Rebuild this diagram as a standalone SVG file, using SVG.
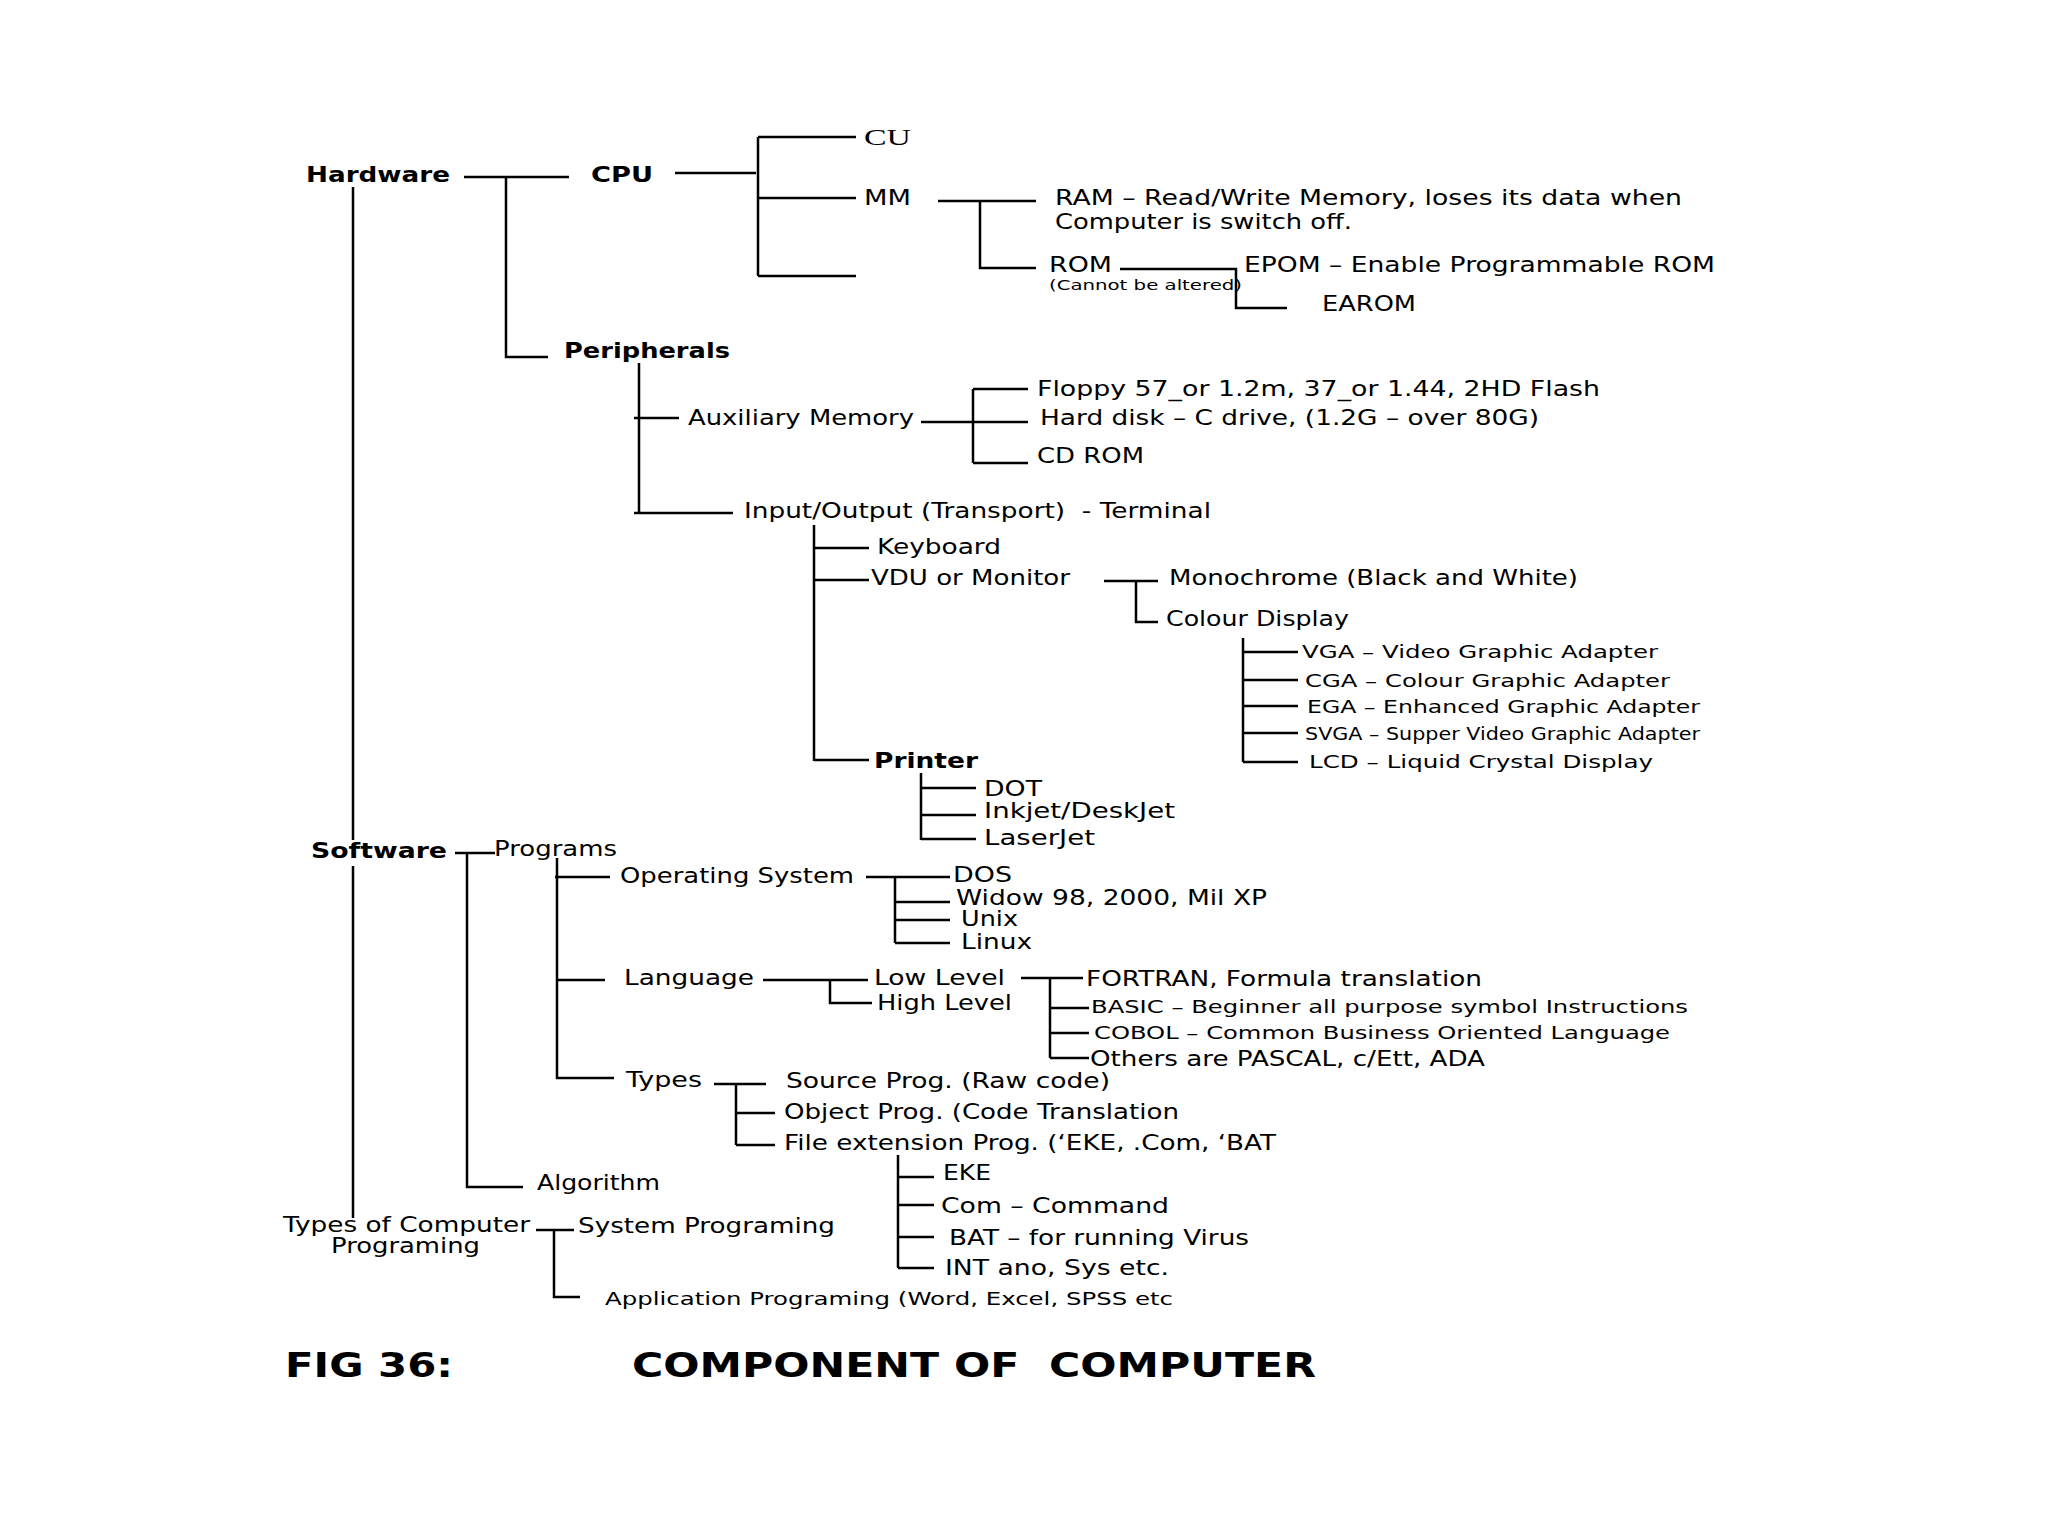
<svg xmlns="http://www.w3.org/2000/svg" width="2048" height="1536" viewBox="0 0 2048 1536">
<style>
text{font-family:"DejaVu Sans","Liberation Sans",sans-serif;font-size:21px;fill:#000;white-space:pre}
.b{font-weight:bold}
.s{font-size:18px}
.xs{font-size:14px}
.serif{font-family:"Liberation Serif",serif;font-size:23px}
.title{font-size:33px;font-weight:bold}
#connectors path{fill:none;stroke:#000;stroke-width:2.5}
</style>
<rect width="2048" height="1536" fill="#fff"/>
<g id="connectors">
<path d="M464,177H569M506,177V357H548M353,187V840M353,866V1218"/>
<path d="M675,173H756M758,137V276M758,137H856M758,198H856M758,276H856"/>
<path d="M938,201H1036M980,201V268H1036M1120,269H1236V308H1287"/>
<path d="M639,363V513M634,513H733M634,418H679M921,422H1028M973,389V463M973,389H1028M973,463H1028"/>
<path d="M814,525V761M814,548H869M814,580H869M814,760H869"/>
<path d="M1104,581H1158M1136,581V622H1158"/>
<path d="M1243,638V762M1243,652H1298M1243,680H1298M1243,706H1298M1243,733H1298M1243,762H1298"/>
<path d="M921,773V840M921,788H976M921,815H976M921,839H976"/>
<path d="M455,853H495M467,853V1187H523"/>
<path d="M557,858V1078H614M555,877H610M557,980H605"/>
<path d="M866,877H950M895,877V943M895,902H950M895,920H950M895,943H950"/>
<path d="M763,980H868M830,980V1003H872"/>
<path d="M1021,978H1083M1050,978V1058M1050,1008H1089M1050,1033H1089M1050,1058H1089"/>
<path d="M714,1084H766M736,1084V1145M736,1113H775M736,1145H775"/>
<path d="M898,1155V1268M898,1177H934M898,1205H934M898,1237H934M898,1268H934"/>
<path d="M536,1230H574M554,1230V1297H580"/>
</g>
<g id="hardware"><text class="b" x="306" y="182" textLength="144" lengthAdjust="spacingAndGlyphs">Hardware</text></g>
<g id="cpu"><text class="b" x="591" y="182" textLength="62" lengthAdjust="spacingAndGlyphs">CPU</text></g>
<g id="cu"><text class="serif" x="864" y="145" textLength="47" lengthAdjust="spacingAndGlyphs">CU</text></g>
<g id="mm"><text x="864" y="205" textLength="47" lengthAdjust="spacingAndGlyphs">MM</text></g>
<g id="ram"><text x="1055" y="205" textLength="627" lengthAdjust="spacingAndGlyphs">RAM – Read/Write Memory, loses its data when</text><text x="1055" y="229" textLength="297" lengthAdjust="spacingAndGlyphs">Computer is switch off.</text></g>
<g id="rom"><text x="1049" y="272" textLength="63" lengthAdjust="spacingAndGlyphs">ROM</text><text class="xs" x="1049" y="290" textLength="193" lengthAdjust="spacingAndGlyphs">(Cannot be altered)</text></g>
<g id="epom"><text x="1244" y="272" textLength="471" lengthAdjust="spacingAndGlyphs">EPOM – Enable Programmable ROM</text></g>
<g id="earom"><text x="1322" y="311" textLength="94" lengthAdjust="spacingAndGlyphs">EAROM</text></g>
<g id="peripherals"><text class="b" x="564" y="358" textLength="166" lengthAdjust="spacingAndGlyphs">Peripherals</text></g>
<g id="auxiliary"><text x="688" y="425" textLength="226" lengthAdjust="spacingAndGlyphs">Auxiliary Memory</text></g>
<g id="floppy"><text x="1037" y="396" textLength="563" lengthAdjust="spacingAndGlyphs">Floppy 57_or 1.2m, 37_or 1.44, 2HD Flash</text></g>
<g id="harddisk"><text x="1040" y="425" textLength="499" lengthAdjust="spacingAndGlyphs">Hard disk – C drive, (1.2G – over 80G)</text></g>
<g id="cdrom"><text x="1037" y="463" textLength="107" lengthAdjust="spacingAndGlyphs">CD ROM</text></g>
<g id="io"><text x="744" y="518" textLength="467" lengthAdjust="spacingAndGlyphs">Input/Output (Transport)  - Terminal</text></g>
<g id="keyboard"><text x="877" y="554" textLength="124" lengthAdjust="spacingAndGlyphs">Keyboard</text></g>
<g id="vdu"><text x="871" y="585" textLength="199" lengthAdjust="spacingAndGlyphs">VDU or Monitor</text></g>
<g id="mono"><text x="1169" y="585" textLength="409" lengthAdjust="spacingAndGlyphs">Monochrome (Black and White)</text></g>
<g id="colour"><text x="1166" y="626" textLength="183" lengthAdjust="spacingAndGlyphs">Colour Display</text></g>
<g id="vga"><text class="s" x="1302" y="658" textLength="356" lengthAdjust="spacingAndGlyphs">VGA – Video Graphic Adapter</text></g>
<g id="cga"><text class="s" x="1305" y="687" textLength="365" lengthAdjust="spacingAndGlyphs">CGA – Colour Graphic Adapter</text></g>
<g id="ega"><text class="s" x="1307" y="713" textLength="393" lengthAdjust="spacingAndGlyphs">EGA – Enhanced Graphic Adapter</text></g>
<g id="svga"><text class="s" x="1305" y="740" textLength="395" lengthAdjust="spacingAndGlyphs">SVGA – Supper Video Graphic Adapter</text></g>
<g id="lcd"><text class="s" x="1309" y="768" textLength="344" lengthAdjust="spacingAndGlyphs">LCD – Liquid Crystal Display</text></g>
<g id="printer"><text class="b" x="874" y="768" textLength="104" lengthAdjust="spacingAndGlyphs">Printer</text></g>
<g id="dot"><text x="984" y="796" textLength="58" lengthAdjust="spacingAndGlyphs">DOT</text></g>
<g id="inkjet"><text x="984" y="818" textLength="191" lengthAdjust="spacingAndGlyphs">Inkjet/DeskJet</text></g>
<g id="laserjet"><text x="984" y="845" textLength="111" lengthAdjust="spacingAndGlyphs">LaserJet</text></g>
<g id="software"><text class="b" x="311" y="858" textLength="136" lengthAdjust="spacingAndGlyphs">Software</text></g>
<g id="programs"><text x="494" y="856" textLength="123" lengthAdjust="spacingAndGlyphs">Programs</text></g>
<g id="os"><text x="620" y="883" textLength="234" lengthAdjust="spacingAndGlyphs">Operating System</text></g>
<g id="dos"><text x="953" y="882" textLength="59" lengthAdjust="spacingAndGlyphs">DOS</text></g>
<g id="widow"><text x="956" y="905" textLength="311" lengthAdjust="spacingAndGlyphs">Widow 98, 2000, Mil XP</text></g>
<g id="unix"><text x="961" y="926" textLength="57" lengthAdjust="spacingAndGlyphs">Unix</text></g>
<g id="linux"><text x="961" y="949" textLength="71" lengthAdjust="spacingAndGlyphs">Linux</text></g>
<g id="language"><text x="624" y="985" textLength="130" lengthAdjust="spacingAndGlyphs">Language</text></g>
<g id="lowlevel"><text x="874" y="985" textLength="131" lengthAdjust="spacingAndGlyphs">Low Level</text></g>
<g id="highlevel"><text x="877" y="1010" textLength="135" lengthAdjust="spacingAndGlyphs">High Level</text></g>
<g id="fortran"><text x="1086" y="986" textLength="396" lengthAdjust="spacingAndGlyphs">FORTRAN, Formula translation</text></g>
<g id="basic"><text class="s" x="1091" y="1013" textLength="597" lengthAdjust="spacingAndGlyphs">BASIC – Beginner all purpose symbol Instructions</text></g>
<g id="cobol"><text class="s" x="1094" y="1039" textLength="576" lengthAdjust="spacingAndGlyphs">COBOL – Common Business Oriented Language</text></g>
<g id="others"><text x="1090" y="1066" textLength="395" lengthAdjust="spacingAndGlyphs">Others are PASCAL, c/Ett, ADA</text></g>
<g id="types"><text x="626" y="1087" textLength="76" lengthAdjust="spacingAndGlyphs">Types</text></g>
<g id="source"><text x="786" y="1088" textLength="324" lengthAdjust="spacingAndGlyphs">Source Prog. (Raw code)</text></g>
<g id="object"><text x="784" y="1119" textLength="395" lengthAdjust="spacingAndGlyphs">Object Prog. (Code Translation</text></g>
<g id="fileext"><text x="784" y="1150" textLength="492" lengthAdjust="spacingAndGlyphs">File extension Prog. (‘EKE, .Com, ‘BAT</text></g>
<g id="eke"><text x="943" y="1180" textLength="48" lengthAdjust="spacingAndGlyphs">EKE</text></g>
<g id="com"><text x="941" y="1213" textLength="228" lengthAdjust="spacingAndGlyphs">Com – Command</text></g>
<g id="bat"><text x="949" y="1245" textLength="300" lengthAdjust="spacingAndGlyphs">BAT – for running Virus</text></g>
<g id="int"><text x="945" y="1275" textLength="224" lengthAdjust="spacingAndGlyphs">INT ano, Sys etc.</text></g>
<g id="algorithm"><text x="537" y="1190" textLength="123" lengthAdjust="spacingAndGlyphs">Algorithm</text></g>
<g id="typesofcomputer"><text x="283" y="1232" textLength="247" lengthAdjust="spacingAndGlyphs">Types of Computer</text><text x="331" y="1253" textLength="149" lengthAdjust="spacingAndGlyphs">Programing</text></g>
<g id="systemprog"><text x="578" y="1233" textLength="257" lengthAdjust="spacingAndGlyphs">System Programing</text></g>
<g id="appprog"><text class="s" x="605" y="1305" textLength="568" lengthAdjust="spacingAndGlyphs">Application Programing (Word, Excel, SPSS etc</text></g>
<g id="caption"><text class="title" x="285" y="1377" textLength="168" lengthAdjust="spacingAndGlyphs">FIG 36:</text><text class="title" x="632" y="1377" textLength="684" lengthAdjust="spacingAndGlyphs">COMPONENT OF  COMPUTER</text></g>
</svg>
